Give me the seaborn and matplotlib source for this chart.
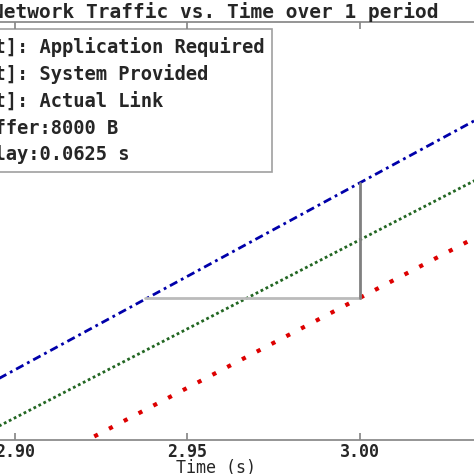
import numpy as np
import pandas as pd
import seaborn as sns
import matplotlib
matplotlib.use("Agg")
import matplotlib.pyplot as plt

time_s = [2.85, 2.90, 2.95, 3.00, 3.05]
app_required = [-23.5, 70.0, 163.5, 257.0, 350.5]
sys_provided = [-67.0, 22.0, 111.0, 200.0, 289.0]
actual_link = [-128.0, -38.0, 52.0, 142.0, 232.0]
buffer_x = [2.9377, 3.00]
delay_x = [3.00, 3.00]

sns.set_theme(style="ticks")
plt.rcParams["font.family"] = ["DejaVu Sans Mono", "DejaVu Sans"]
plt.rcParams["font.weight"] = "bold"

fig = plt.figure(figsize=(4.74, 4.74), dpi=100)
# axes extend past the figure edges, as in the cropped reference
ax = fig.add_axes([-0.25, 0.072, 1.41, 0.882])

sns.lineplot(x=time_s, y=app_required, ax=ax, color="#0000aa", linestyle=(0, (3, 1.5, 1, 1.5)),
             linewidth=2, label="A[t]: Application Required")
sns.lineplot(x=time_s, y=sys_provided, ax=ax, color="#226622", linestyle=(0, (1, 1)),
             linewidth=2, label="S[t]: System Provided")
sns.lineplot(x=time_s, y=actual_link, ax=ax, color="#dd0000", linestyle=(0, (1, 3)),
             linewidth=3, label="L[t]: Actual Link")
ax.plot(buffer_x, [actual_link[3], actual_link[3]], color="#bbbbbb", linewidth=2, label="Buffer:8000 B")
ax.plot(delay_x, [actual_link[3], app_required[3]], color="#808080", linewidth=2, label="Delay:0.0625 s")

ax.set_xticks([2.85, 2.90, 2.95, 3.00, 3.05])
ax.xaxis.set_major_formatter(matplotlib.ticker.FormatStrFormatter("%.2f"))
ax.set_yticks([])
span = 0.13739  # data width visible across the figure
lo = 2.8957 - 0.25 * span
ax.set_xlim(lo, lo + 1.41 * span)
ax.set_ylim(0, 418)
ax.tick_params(axis="x", labelsize=12, top=True, direction="in", length=5, color="#888888", pad=2)
for sp in ax.spines.values():
    sp.set_visible(True)
    sp.set_color("#888888")
ax.set_xlabel("Time (s)", fontsize=12, fontweight="normal", labelpad=-1)
ax.set_title("Network Traffic vs. Time over 1 period", fontsize=14, fontweight="bold", pad=3)

leg = ax.legend(loc="upper right", bbox_to_anchor=(0.593, 0.958), bbox_transform=fig.transFigure,
                fontsize=13.5, frameon=True, fancybox=False, handlelength=2, labelspacing=0.4)
leg.get_frame().set_edgecolor("#888888")
leg.get_frame().set_linewidth(1.2)

fig.savefig("out.png", dpi=100)
